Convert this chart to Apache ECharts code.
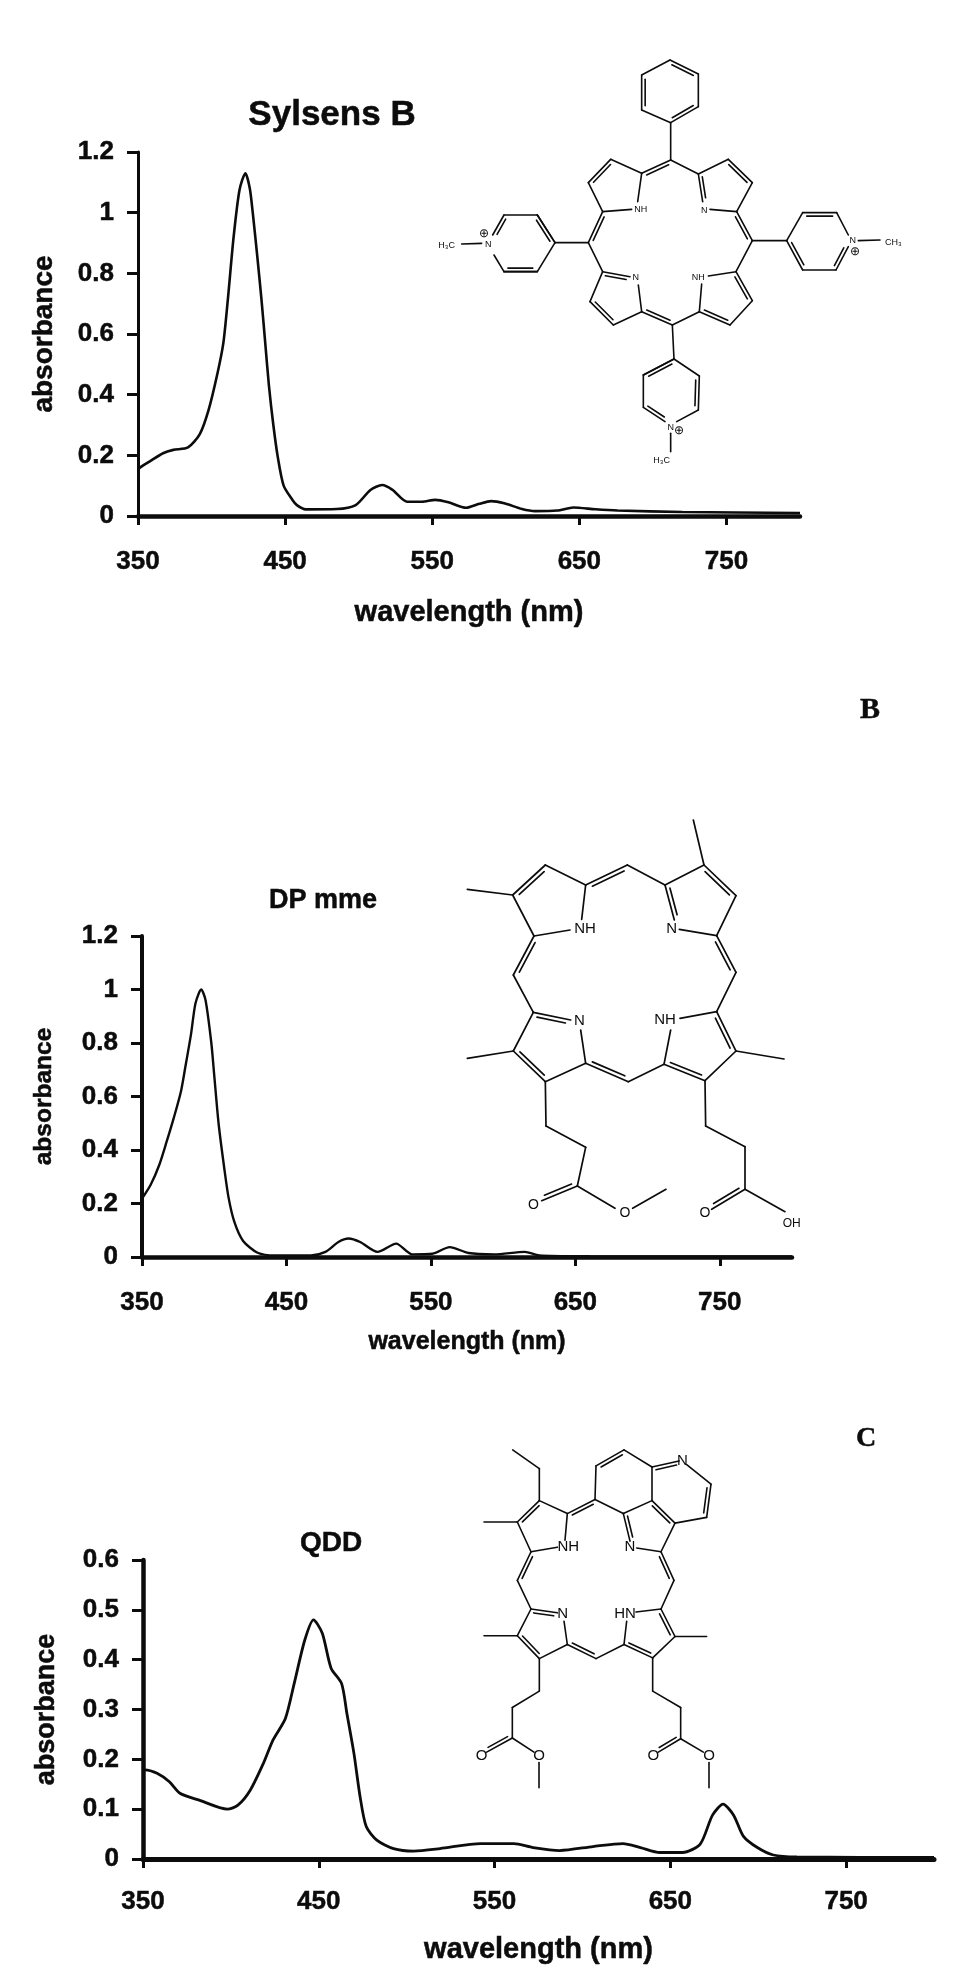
<!DOCTYPE html>
<html lang="en">
<head>
<meta charset="UTF-8">
<title>absorbance spectra</title>
<script src="https://cdn.jsdelivr.net/npm/echarts@6/dist/echarts.min.js"></script>
<style>
    html, body { margin: 0; padding: 0; background: #fff; }
    #main { width: 963px; height: 1986px; }
</style>
</head>
<body>
<div id="main"></div>
<script>
// values
var xTicks = [350, 450, 550, 650, 750];

var sylsensWave = [350, 351, 358, 367, 374, 384, 392, 398, 404, 408, 411, 415, 419, 423, 426, 428, 431, 434, 436.5, 439, 442, 445, 449, 455, 458, 464, 485, 498, 508, 516, 523, 533, 543, 552, 561, 573, 582, 590, 599, 611, 620, 635, 646, 661, 676, 720, 800];
var sylsensAbs = [0.15, 0.158, 0.18, 0.207, 0.218, 0.226, 0.27, 0.35, 0.47, 0.57, 0.71, 0.92, 1.075, 1.13, 1.08, 1.0, 0.86, 0.71, 0.57, 0.43, 0.3, 0.195, 0.1, 0.053, 0.036, 0.022, 0.023, 0.036, 0.086, 0.102, 0.086, 0.047, 0.047, 0.053, 0.045, 0.027, 0.04, 0.049, 0.042, 0.023, 0.016, 0.018, 0.028, 0.022, 0.018, 0.013, 0.01];

var dpWave = [350, 356, 362, 367, 372, 377, 380, 384, 387, 391, 394, 398, 400, 403, 407, 410, 414, 420, 430, 442, 467, 477, 486, 493, 501, 513, 526, 537, 551, 563, 576, 594, 615, 625, 660, 800];
var dpAbs = [0.218, 0.27, 0.345, 0.43, 0.52, 0.62, 0.71, 0.835, 0.948, 1.0, 0.96, 0.8, 0.68, 0.5, 0.33, 0.22, 0.13, 0.06, 0.016, 0.006, 0.006, 0.019, 0.056, 0.069, 0.056, 0.019, 0.05, 0.01, 0.012, 0.037, 0.015, 0.01, 0.019, 0.006, 0.003, 0.002];

var qddWave = [350, 351, 358, 365, 371, 382, 398, 404, 411, 418.5, 424, 431, 436, 442, 447, 452, 457, 463, 466, 470, 473.5, 477, 483, 492.5, 504, 519, 542, 561, 572, 587, 606, 623, 633, 644, 657, 667, 674, 680, 686, 691.5, 699.5, 708.6, 722, 800];
var qddAbs = [0.178, 0.179, 0.172, 0.155, 0.132, 0.118, 0.1, 0.108, 0.138, 0.192, 0.239, 0.282, 0.352, 0.439, 0.48, 0.453, 0.383, 0.352, 0.292, 0.212, 0.125, 0.065, 0.038, 0.021, 0.016, 0.021, 0.031, 0.031, 0.023, 0.017, 0.025, 0.031, 0.023, 0.013, 0.013, 0.03, 0.088, 0.11, 0.088, 0.046, 0.023, 0.008, 0.004, 0.003];

var FONT = '"Liberation Sans", Arial, sans-serif';
var INK = '#0c0c0c';

function zip(a, b) {
    return a.map(function (v, i) { return [v, b[i]]; });
}

function makeX(i, p) {
    return {
        gridIndex: i, type: 'value', min: 350, max: 800,
        name: 'wavelength (nm)', nameLocation: 'middle', nameGap: p.xGap,
        nameTextStyle: { fontFamily: FONT, fontWeight: 'bold', fontSize: p.nameSize, color: INK, textBorderColor: INK, textBorderWidth: 0.5 },
        axisLine: { onZero: false, lineStyle: { color: INK, width: p.xw } },
        axisTick: { show: true, length: 9, inside: false, customValues: xTicks, lineStyle: { color: INK, width: 3 } },
        axisLabel: { margin: p.xMargin, customValues: xTicks, fontFamily: FONT, fontWeight: 'bold', fontSize: 26, color: INK, textBorderColor: INK, textBorderWidth: 0.5 },
        splitLine: { show: false }
    };
}

function makeY(i, p) {
    return {
        gridIndex: i, type: 'value', min: 0, max: p.yMax, interval: p.yStep,
        name: 'absorbance', nameLocation: 'middle', nameGap: p.yGap,
        nameTextStyle: { fontFamily: FONT, fontWeight: 'bold', fontSize: p.ySize, color: INK, textBorderColor: INK, textBorderWidth: 0.5 },
        axisLine: { show: true, onZero: false, lineStyle: { color: INK, width: p.yw } },
        axisTick: { show: true, length: 11, lineStyle: { color: INK, width: 3 } },
        axisLabel: { margin: 24, fontFamily: FONT, fontWeight: 'bold', fontSize: 26, color: INK, textBorderColor: INK, textBorderWidth: 0.5 },
        splitLine: { show: false }
    };
}

var panels = [
    { l: 138, t: 152, w: 662, h: 364, yMax: 1.2, yStep: 0.2, xGap: 82, yGap: 80, xMargin: 33, nameSize: 29, ySize: 28, xw: 4.5, yw: 3, lw: 2.6 },
    { l: 142, t: 936, w: 650, h: 321, yMax: 1.2, yStep: 0.2, xGap: 73, yGap: 85, xMargin: 33, nameSize: 25, ySize: 24.5, xw: 4.5, yw: 4, lw: 2.4 },
    { l: 143, t: 1560, w: 791, h: 299, yMax: 0.6, yStep: 0.1, xGap: 76, yGap: 83, xMargin: 30, nameSize: 29, ySize: 27, xw: 5, yw: 4.5, lw: 2.8 }
];
var seriesData = [zip(sylsensWave, sylsensAbs), zip(dpWave, dpAbs), zip(qddWave, qddAbs)];

// structure drawings, traced in crop coordinates and mapped to the page
function Mol(ox, oy, sx, sy, lw) {
    this.ox = ox; this.oy = oy; this.sx = sx; this.sy = sy; this.lw = lw; this.items = [];
}
Mol.prototype.px = function (x) { return this.ox + x * this.sx; };
Mol.prototype.py = function (y) { return this.oy + y * this.sy; };
Mol.prototype.seg = function (x1, y1, x2, y2) {
    this.items.push({
        type: 'line', silent: true,
        shape: { x1: x1, y1: y1, x2: x2, y2: y2 },
        style: { stroke: INK, lineWidth: this.lw, lineCap: 'round' }
    });
};
Mol.prototype.path = function (pts) {
    for (var i = 0; i + 3 < pts.length; i += 2) {
        this.seg(this.px(pts[i]), this.py(pts[i + 1]), this.px(pts[i + 2]), this.py(pts[i + 3]));
    }
};
// double bond: [x1,y1,x2,y2,cx,cy], second stroke goes toward c
Mol.prototype.dbl = function (list) {
    for (var i = 0; i < list.length; i++) {
        var d = list[i];
        var x1 = this.px(d[0]), y1 = this.py(d[1]), x2 = this.px(d[2]), y2 = this.py(d[3]);
        var cx = this.px(d[4]), cy = this.py(d[5]);
        this.seg(x1, y1, x2, y2);
        var dx = x2 - x1, dy = y2 - y1, len = Math.sqrt(dx * dx + dy * dy);
        var nx = -dy / len, ny = dx / len;
        if ((cx - x1) * nx + (cy - y1) * ny < 0) { nx = -nx; ny = -ny; }
        var off = this.gap || 4;
        this.seg(x1 + nx * off + dx * 0.12, y1 + ny * off + dy * 0.12, x2 + nx * off - dx * 0.12, y2 + ny * off - dy * 0.12);
    }
};
Mol.prototype.text = function (s, x, y, size) {
    this.items.push({
        type: 'text', silent: true,
        style: {
            text: s, x: this.px(x), y: this.py(y), fill: INK,
            font: size + 'px ' + FONT, textAlign: 'center', textVerticalAlign: 'middle'
        }
    });
};

// Sylsens B
var m1 = new Mol(420, 60, 1 / 3, 1 / 3, 1.6);
m1.gap = 3.5;
m1.path([572, 298, 665, 340]);
m1.path([505, 368, 548, 455, 635, 448]);
m1.path([665, 340, 653, 425]);
m1.path([752, 300, 835, 342]);
m1.path([752, 300, 752, 188]);
m1.path([835, 140, 835, 42]);
m1.path([750, 0, 665, 45]);
m1.path([665, 150, 752, 188]);
m1.path([835, 342, 925, 298]);
m1.path([997, 368, 950, 455, 870, 448]);
m1.path([997, 542, 948, 635]);
m1.path([997, 542, 1100, 542]);
m1.path([1148, 458, 1100, 542]);
m1.path([1250, 458, 1285, 525]);
m1.path([1148, 630, 1248, 630]);
m1.path([1315, 542, 1380, 540]);
m1.path([997, 722, 930, 795]);
m1.path([845, 672, 838, 755, 757, 795, 762, 897]);
m1.path([865, 648, 948, 635]);
m1.path([665, 755, 655, 675]);
m1.path([665, 755, 580, 795]);
m1.path([510, 725, 548, 635]);
m1.path([548, 635, 505, 548, 405, 548, 352, 465]);
m1.path([405, 548, 352, 635, 252, 635]);
m1.path([352, 465, 252, 465]);
m1.path([222, 585, 252, 635]);
m1.path([125, 552, 185, 550]);
m1.path([762, 897, 670, 945]);
m1.path([838, 948, 762, 897]);
m1.path([835, 1050, 770, 1085]);
m1.path([670, 945, 670, 1042]);
m1.path([752, 1120, 752, 1175]);
m1.dbl([
    [665, 340, 752, 300, 750, 550], [505, 368, 572, 298, 585, 380], [835, 140, 752, 188, 750, 90], [835, 42, 750, 0, 750, 90], [665, 45, 665, 150, 750, 90],
    [835, 342, 848, 425, 910, 380], [925, 298, 997, 368, 910, 380], [950, 455, 997, 542, 750, 550],
    [1148, 458, 1250, 458, 1200, 545], [1100, 542, 1148, 630, 1200, 545], [1285, 560, 1248, 630, 1200, 545],
    [948, 635, 997, 722, 910, 715], [838, 755, 930, 795, 910, 715], [665, 755, 757, 795, 750, 550],
    [580, 795, 510, 725, 585, 715], [548, 635, 630, 650, 585, 715], [505, 548, 548, 455, 750, 550],
    [352, 465, 405, 548, 305, 550], [252, 465, 218, 525, 305, 550], [252, 635, 350, 635, 305, 550],
    [762, 897, 670, 945, 750, 1000], [838, 948, 835, 1050, 750, 1000], [735, 1085, 670, 1042, 750, 1000]
]);
m1.text('NH', 662, 450, 9);
m1.text('N', 853, 452, 9);
m1.text('N', 647, 652, 9);
m1.text('NH', 835, 652, 9);
m1.text('H\u2083C', 80, 558, 9);
m1.text('N', 205, 555, 9);
m1.text('\u2295', 193, 520, 12);
m1.text('N', 1298, 543, 9);
m1.text('\u2295', 1305, 575, 12);
m1.text('CH\u2083', 1420, 548, 9);
m1.text('N', 752, 1103, 9);
m1.text('\u2295', 778, 1112, 12);
m1.text('H\u2083C', 725, 1202, 9);

// DP mme
var m2 = new Mol(440, 830, 1 / 3, 1 / 3, 1.7);
m2.gap = 4;
m2.path([437, 165, 316, 105]);
m2.path([218, 195, 282, 318, 390, 300]);
m2.path([437, 165, 425, 268]);
m2.path([218, 195, 82, 178]);
m2.path([562, 105, 675, 165, 792, 105]);
m2.path([792, 105, 760, -30]);
m2.path([888, 197, 830, 317, 718, 298]);
m2.path([888, 427, 830, 545]);
m2.path([888, 663, 795, 752]);
m2.path([888, 663, 1032, 687]);
m2.path([692, 600, 672, 703, 565, 755]);
m2.path([720, 565, 830, 545]);
m2.path([422, 600, 437, 700, 316, 755]);
m2.path([220, 663, 280, 547, 220, 435]);
m2.path([220, 663, 82, 685]);
m2.path([316, 755, 318, 888, 437, 952, 412, 1068, 525, 1135]);
m2.path([578, 1135, 678, 1078]);
m2.path([795, 752, 797, 888, 915, 950, 915, 1078, 1035, 1145]);
m2.dbl([
    [218, 195, 316, 105, 330, 215], [437, 165, 562, 105, 555, 430], [282, 318, 220, 435, 555, 430],
    [675, 165, 703, 270, 780, 215], [792, 105, 888, 197, 780, 215], [830, 317, 888, 427, 555, 430],
    [830, 545, 888, 663, 780, 650], [795, 752, 672, 703, 780, 650], [565, 755, 437, 700, 555, 430],
    [316, 755, 220, 663, 330, 650], [280, 547, 392, 570, 330, 650],
    [412, 1068, 305, 1112, 300, 1050], [915, 1078, 815, 1138, 800, 1050]
]);
m2.text('NH', 435, 298, 15);
m2.text('N', 695, 298, 15);
m2.text('N', 418, 572, 15);
m2.text('NH', 675, 570, 15);
m2.text('O', 280, 1125, 14);
m2.text('O', 555, 1148, 14);
m2.text('O', 795, 1150, 14);
m2.text('OH', 1055, 1180, 12);

// QDD
var m3 = new Mol(480, 1380, 1 / 3, 1 / 2.62, 1.6);
m3.gap = 3.5;
m3.path([262, 350, 178, 316]);
m3.path([112, 372, 153, 450, 232, 438]);
m3.path([262, 350, 255, 420]);
m3.path([112, 372, 12, 372]);
m3.path([178, 316, 178, 232, 98, 183]);
m3.path([516, 228, 432, 183]);
m3.path([348, 225, 345, 313, 430, 350, 516, 316, 516, 228]);
m3.path([620, 222, 693, 273]);
m3.path([680, 360, 585, 375, 543, 450, 470, 440]);
m3.path([582, 525, 543, 600]);
m3.path([585, 672, 518, 728]);
m3.path([585, 672, 680, 672]);
m3.path([468, 608, 543, 600]);
m3.path([440, 632, 432, 693, 348, 730]);
m3.path([252, 632, 262, 693, 178, 730]);
m3.path([112, 670, 153, 600, 112, 525]);
m3.path([112, 670, 12, 670]);
m3.path([178, 730, 178, 815, 97, 858, 97, 938, 162, 975]);
m3.path([177, 1002, 177, 1068]);
m3.path([518, 728, 518, 815, 602, 858, 602, 940, 670, 975]);
m3.path([687, 1002, 687, 1068]);
m3.dbl([
    [262, 350, 345, 313, 345, 525], [178, 316, 112, 372, 190, 400], [153, 450, 112, 525, 345, 525],
    [348, 225, 432, 183, 430, 260], [516, 228, 597, 212, 600, 300], [693, 273, 680, 360, 600, 300],
    [430, 350, 450, 422, 500, 400], [516, 316, 585, 375, 500, 400], [543, 450, 582, 525, 345, 525],
    [543, 600, 585, 672, 500, 650], [518, 728, 432, 693, 500, 650], [348, 730, 262, 693, 345, 525],
    [178, 730, 112, 670, 190, 650], [153, 600, 232, 610, 190, 650],
    [97, 938, 20, 975, 20, 900], [602, 940, 535, 975, 520, 900]
]);
m3.text('NH', 265, 438, 15);
m3.text('N', 450, 438, 15);
m3.text('N', 607, 212, 15);
m3.text('N', 248, 612, 15);
m3.text('HN', 435, 612, 15);
m3.text('O', 5, 985, 15);
m3.text('O', 177, 985, 15);
m3.text('O', 520, 985, 15);
m3.text('O', 687, 985, 15);

function label(s, x, y, size, family) {
    return {
        type: 'text', silent: true,
        style: {
            text: s, x: x, y: y, fill: INK, stroke: INK, lineWidth: 0.5,
            font: 'bold ' + size + 'px ' + family, textAlign: 'center', textVerticalAlign: 'middle'
        }
    };
}
var SERIF = '"Liberation Serif", "Times New Roman", serif';
var labels = [
    label('Sylsens B', 332, 115, 35, FONT),
    label('DP mme', 323, 901, 27, FONT),
    label('QDD', 331, 1543, 28, FONT),
    label('B', 870, 710, 30, SERIF),
    label('C', 866, 1439, 28, SERIF)
];

var chart = echarts.init(document.getElementById('main'), null, { renderer: 'canvas' });
chart.setOption({
    animation: false,
    backgroundColor: '#fff',
    grid: panels.map(function (p) { return { left: p.l, top: p.t, width: p.w, height: p.h }; }),
    xAxis: panels.map(function (p, i) { return makeX(i, p); }),
    yAxis: panels.map(function (p, i) { return makeY(i, p); }),
    series: panels.map(function (p, i) {
        return {
            type: 'line', xAxisIndex: i, yAxisIndex: i, data: seriesData[i],
            showSymbol: false, symbol: 'none', smooth: 0.25, clip: false,
            lineStyle: { color: INK, width: p.lw }
        };
    }),
    graphic: { elements: labels.concat(m1.items, m2.items, m3.items) }
});
</script>
</body>
</html>
